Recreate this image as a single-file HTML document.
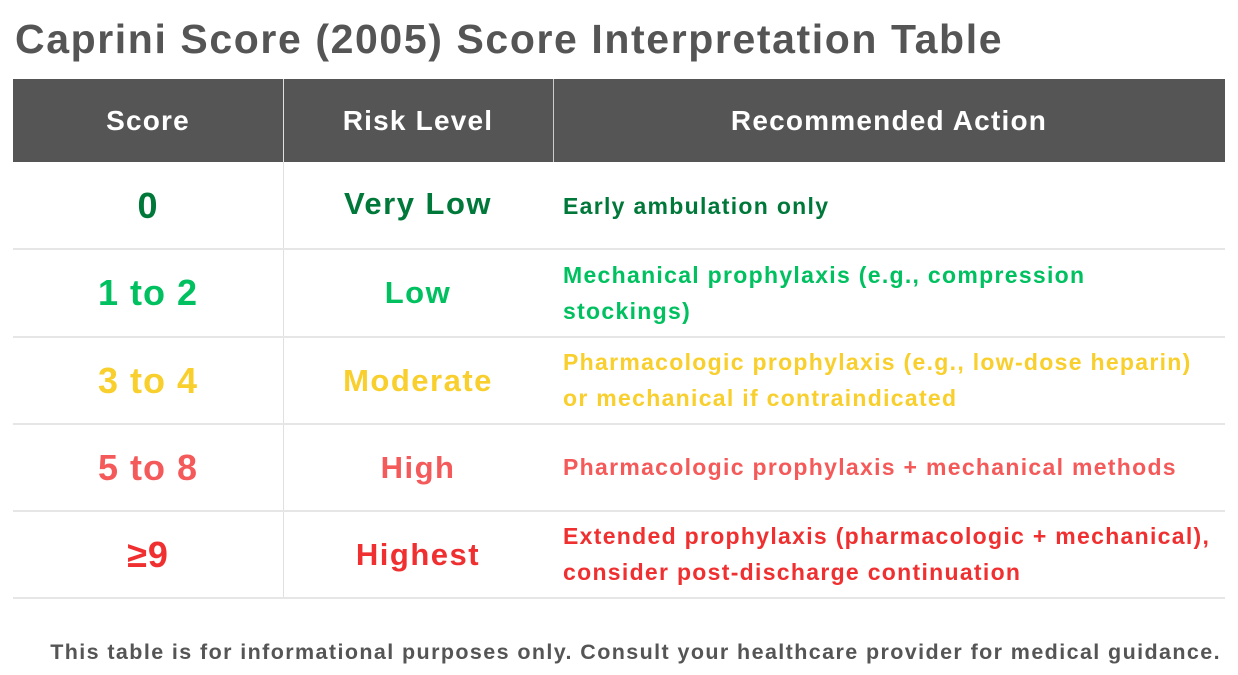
<!DOCTYPE html>
<html><head><meta charset="utf-8"><style>
body{margin:0;width:1238px;height:675px;background:#fff;position:relative;overflow:hidden;font-family:"Liberation Sans",sans-serif;font-weight:bold}
.a{position:absolute;white-space:nowrap}
.t{left:15px;top:16px;font-size:41px;color:#555;letter-spacing:1.6px}
.hdr{left:13px;top:79px;width:1212px;height:83px;background:#555}
.h{top:79px;height:83px;line-height:83px;color:#fff;font-size:28px;text-align:center;letter-spacing:1.2px}
.vl{width:1px;background:#ddd}
.hl{left:13px;width:1212px;height:2px;background:#e6e6e6}
.s{left:13px;width:270px;text-align:center;font-size:36px;height:87px;line-height:87px;letter-spacing:1px}
.r{left:283px;width:270px;text-align:center;font-size:31px;height:87px;line-height:87px;letter-spacing:1.5px}
.c{left:563px;font-size:23px;line-height:36px;letter-spacing:1.3px}
.f{right:17px;top:640px;font-size:21.5px;color:#555;letter-spacing:1.4px}
</style></head><body>
<div class="a t">Caprini Score (2005) Score Interpretation Table</div>
<div class="a hdr"></div>
<div class="a vl" style="left:283px;top:79px;height:519px;background:#e0e0e0"></div>
<div class="a vl" style="left:553px;top:79px;height:83px;background:#ccc"></div>
<div class="a h" style="left:13px;width:270px">Score</div>
<div class="a h" style="left:283px;width:270px">Risk Level</div>
<div class="a h" style="left:553px;width:672px">Recommended Action</div>
<div class="a hl" style="top:248px"></div>
<div class="a hl" style="top:336px"></div>
<div class="a hl" style="top:423px"></div>
<div class="a hl" style="top:510px"></div>
<div class="a hl" style="top:597px"></div>

<div class="a s" style="top:162px;color:#00783a">0</div>
<div class="a r" style="top:160px;color:#00783a">Very Low</div>
<div class="a c" style="top:188px;color:#00783a">Early ambulation only</div>

<div class="a s" style="top:249px;color:#00c060">1 to 2</div>
<div class="a r" style="top:249px;color:#00c060">Low</div>
<div class="a c" style="top:257px;color:#00c060">Mechanical prophylaxis (e.g., compression<br>stockings)</div>

<div class="a s" style="top:337px;color:#f8cf2c">3 to 4</div>
<div class="a r" style="top:337px;color:#f8cf2c">Moderate</div>
<div class="a c" style="top:344px;color:#f8cf2c">Pharmacologic prophylaxis (e.g., low-dose heparin)<br>or mechanical if contraindicated</div>

<div class="a s" style="top:424px;color:#f55a5a">5 to 8</div>
<div class="a r" style="top:424px;color:#f55a5a">High</div>
<div class="a c" style="top:449px;color:#f55a5a">Pharmacologic prophylaxis + mechanical methods</div>

<div class="a s" style="top:511px;color:#f03030">≥9</div>
<div class="a r" style="top:511px;color:#f03030">Highest</div>
<div class="a c" style="top:518px;color:#f03030">Extended prophylaxis (pharmacologic + mechanical),<br>consider post-discharge continuation</div>

<div class="a f">This table is for informational purposes only. Consult your healthcare provider for medical guidance.</div>
</body></html>
